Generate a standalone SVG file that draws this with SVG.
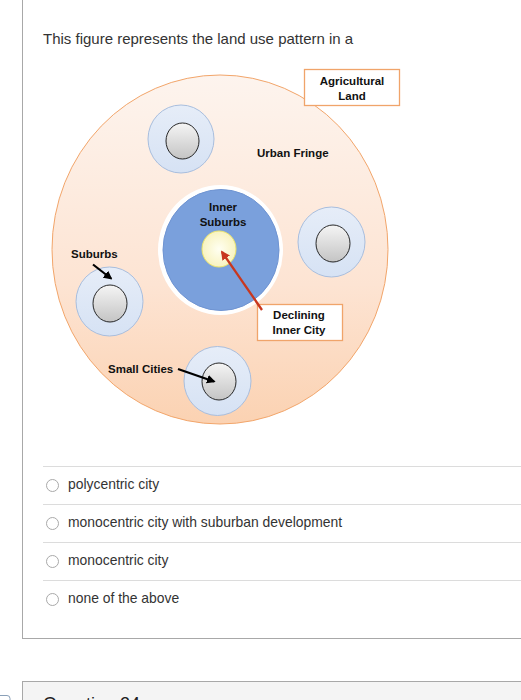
<svg xmlns="http://www.w3.org/2000/svg" width="521" height="700" viewBox="0 0 521 700">
<defs>
<style>
.ui{font-family:"Liberation Sans",Arial,sans-serif;fill:#333;}
.lbl{font-family:"Liberation Sans",Arial,sans-serif;font-weight:bold;font-size:11.5px;fill:#111;}
.sep{stroke:#dcdcdc;stroke-width:1;}
.radio{fill:#fff;stroke:#a9a9a9;stroke-width:1;}
.sat{fill:url(#satG);stroke:#a8bede;stroke-width:1;}
.core{fill:url(#coreG);stroke:#111;stroke-width:0.9;}
.box{fill:#fff;stroke:#f0a46a;stroke-width:1.3;}
</style>
<linearGradient id="bigG" x1="0" y1="0" x2="0" y2="1">
<stop offset="0" stop-color="#fdf4ee"/>
<stop offset="0.6" stop-color="#fde4d3"/>
<stop offset="1" stop-color="#fbd2b2"/>
</linearGradient>
<linearGradient id="satG" x1="0" y1="0" x2="0" y2="1">
<stop offset="0" stop-color="#e6edf8"/>
<stop offset="1" stop-color="#d6e2f4"/>
</linearGradient>
<linearGradient id="coreG" x1="0" y1="0" x2="0" y2="1">
<stop offset="0" stop-color="#f5f5f5"/>
<stop offset="1" stop-color="#c4c4c4"/>
</linearGradient>
<radialGradient id="yelG" cx="0.5" cy="0.5" r="0.5">
<stop offset="0" stop-color="#fffff2"/>
<stop offset="1" stop-color="#f8f3c0"/>
</radialGradient>
<marker id="ab" viewBox="0 0 10 10" refX="8" refY="5" markerWidth="4" markerHeight="4" orient="auto" markerUnits="strokeWidth">
<path d="M0,0 L10,5 L0,10 z" fill="#000"/>
</marker>
<marker id="ar" viewBox="0 0 10 10" refX="8" refY="5" markerWidth="4" markerHeight="4" orient="auto" markerUnits="strokeWidth">
<path d="M0,0 L10,5 L0,10 z" fill="#c8371f"/>
</marker>
</defs>
<rect width="521" height="700" fill="#fff"/>
<rect x="22.5" y="-2" width="510" height="640.5" fill="#fff" stroke="#a8a8a8" stroke-width="1"/>
<text class="ui" x="43" y="44" font-size="15">This figure represents the land use pattern in a</text>

<g id="urban-fringe">
<ellipse cx="220" cy="249.5" rx="168" ry="174.5" fill="url(#bigG)" stroke="#f2a56a" stroke-width="1"/>
<text class="lbl" x="257" y="157" font-size="12">Urban Fringe</text>
</g>

<g id="agricultural-land">
<rect class="box" x="304.5" y="69.5" width="95" height="36"/>
<text class="lbl" x="352" y="84.5" text-anchor="middle">Agricultural</text>
<text class="lbl" x="352" y="99.5" text-anchor="middle">Land</text>
</g>

<g id="city-top">
<ellipse class="sat" cx="181" cy="139" rx="33" ry="34"/>
<ellipse class="core" cx="182.5" cy="141" rx="16.5" ry="18"/>
</g>
<g id="city-right">
<ellipse class="sat" cx="331.5" cy="242" rx="33.5" ry="35"/>
<ellipse class="core" cx="333" cy="243.5" rx="17" ry="18.5"/>
</g>
<g id="city-left">
<ellipse class="sat" cx="109.5" cy="301.5" rx="33.5" ry="34.5"/>
<ellipse class="core" cx="110" cy="303.5" rx="17" ry="18.5"/>
</g>
<g id="city-bottom">
<ellipse class="sat" cx="217.5" cy="381" rx="33.5" ry="34.5"/>
<ellipse class="core" cx="219" cy="381.5" rx="17" ry="18.5"/>
</g>

<g id="inner-suburbs">
<ellipse cx="220.5" cy="250" rx="62.5" ry="65" fill="#fff"/>
<ellipse cx="221" cy="250" rx="58" ry="60.5" fill="#7aa0dc" stroke="#6f94d2" stroke-width="1"/>
<text class="lbl" x="223" y="210.5" text-anchor="middle">Inner</text>
<text class="lbl" x="223" y="225.5" text-anchor="middle">Suburbs</text>
</g>

<g id="declining-inner-city">
<ellipse cx="219" cy="249" rx="17" ry="18" fill="url(#yelG)" stroke="#ece46a" stroke-width="1"/>
<rect class="box" x="257.5" y="304.5" width="85" height="36"/>
<text class="lbl" x="299" y="318.5" text-anchor="middle">Declining</text>
<text class="lbl" x="299" y="333.5" text-anchor="middle">Inner City</text>
</g>

<g id="label-suburbs">
<text class="lbl" x="71" y="258">Suburbs</text>
</g>
<g id="label-small-cities">
<text class="lbl" x="108" y="373" font-size="12">Small Cities</text>
</g>

<g id="connectors">
<line x1="93" y1="264.5" x2="111" y2="278.5" stroke="#000" stroke-width="2.2" marker-end="url(#ab)"/>
<line x1="178" y1="369" x2="214" y2="381.5" stroke="#000" stroke-width="2.2" marker-end="url(#ab)"/>
<line x1="262" y1="310" x2="222" y2="252" stroke="#c8371f" stroke-width="2.3" marker-end="url(#ar)"/>
</g>

<g id="answers">
<line class="sep" x1="43" y1="466.5" x2="521" y2="466.5"/>
<line class="sep" x1="43" y1="504.5" x2="521" y2="504.5"/>
<line class="sep" x1="43" y1="542.5" x2="521" y2="542.5"/>
<line class="sep" x1="43" y1="580.5" x2="521" y2="580.5"/>
<circle class="radio" cx="52.5" cy="485.5" r="6"/>
<circle class="radio" cx="52.5" cy="523.5" r="6"/>
<circle class="radio" cx="52.5" cy="561.5" r="6"/>
<circle class="radio" cx="52.5" cy="599.5" r="6"/>
<text class="ui" x="68" y="489" font-size="13.9">polycentric city</text>
<text class="ui" x="68" y="527" font-size="13.9">monocentric city with suburban development</text>
<text class="ui" x="68" y="565" font-size="13.9">monocentric city</text>
<text class="ui" x="68" y="603" font-size="13.9">none of the above</text>
</g>

<g id="next-question">
<rect x="22.5" y="681.5" width="510" height="40" fill="#f4f4f4" stroke="#a8a8a8" stroke-width="1"/>
<text class="ui" x="43" y="710" font-size="18" style="fill:#222">Question 24</text>
<rect x="-6" y="695.5" width="16" height="12" rx="3" fill="#fff" stroke="#8aa0b8" stroke-width="1"/>
</g>
</svg>
